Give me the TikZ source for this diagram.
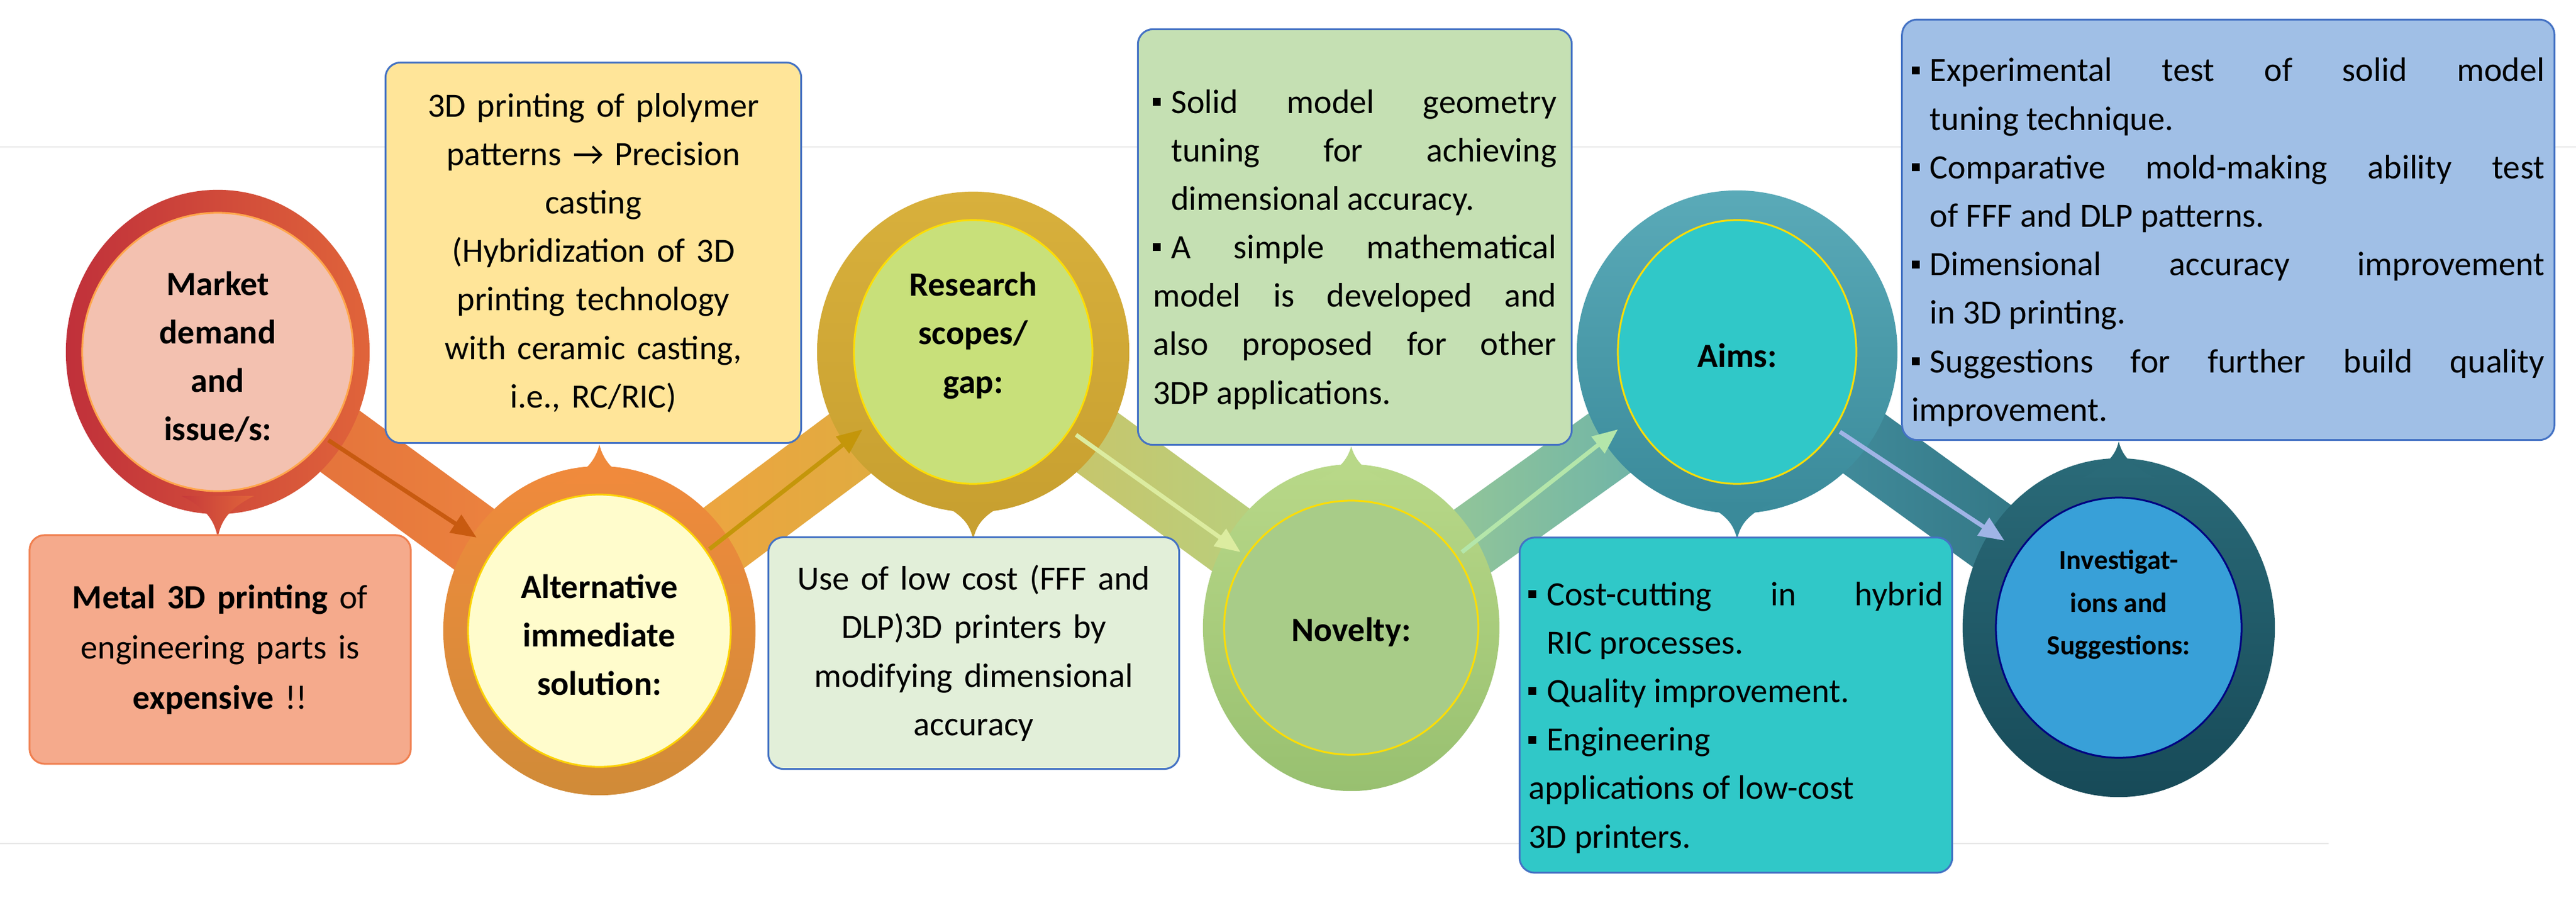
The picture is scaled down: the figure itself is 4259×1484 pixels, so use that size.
\documentclass[tikz,border=0pt]{standalone}
\usepackage{fontspec}
\setmainfont{Carlito}
\usetikzlibrary{calc,arrows.meta}
\definecolor{boxline}{HTML}{4472C4}
\tikzset{
  txt/.style={font=\fontsize{16}{22.8}\selectfont},
  box/.style={draw=boxline, line width=0.03cm, rounded corners=0.25cm, inner sep=0pt, txt},
  lab/.style={font=\fontsize{16}{22.8}\selectfont\bfseries, align=center},
  arr/.style={line width=0.07cm, -{Triangle[length=0.42cm,width=0.34cm]}},
}
\newcommand{\bul}{\par\noindent\hyphenpenalty=10000\exhyphenpenalty=10000\hangindent=0.3cm\hangafter=1\makebox[0.3cm][l]{\raisebox{0.45ex}{\rule{0.13cm}{0.13cm}}}}
\begin{document}
\begin{tikzpicture}[x=0.01cm,y=-0.01cm]
\useasboundingbox (0,0) rectangle (4259,1484);
\fill[white] (0,0) rectangle (4259,1484);
\draw[gray!18, line width=0.02cm] (0,243) -- (4259,243);
\draw[gray!18, line width=0.02cm] (0,1395) -- (3850,1395);
% centers
\coordinate (M) at (360,582);
\coordinate (A) at (991,1043);
\coordinate (R) at (1609,582);
\coordinate (N) at (2234,1038);
\coordinate (Am) at (2872,582);
\coordinate (I) at (3503,1038);
% bands
\foreach \p/\q/\c/\d in {M/A/E06A3A/F08C40, A/R/F5A040/D8B040, R/N/D0C060/B0D488, N/Am/A8D090/5AAAB0, Am/I/4A98A8/2A6A78}{
  \definecolor{ca}{HTML}{\c}\definecolor{cb}{HTML}{\d}
  \shade[left color=ca, right color=cb]
    ($(\p)!0.6cm!90:(\q)$) -- ($(\q)!0.6cm!-90:(\p)$) -- ($(\q)!0.6cm!90:(\p)$) -- ($(\p)!0.6cm!-90:(\q)$) -- cycle;
}
% rings with tips
\definecolor{mr1}{HTML}{C0303A}\definecolor{mr2}{HTML}{E0643A}
\definecolor{ar1}{HTML}{F08A3C}\definecolor{ar2}{HTML}{F5A442}
\definecolor{rr1}{HTML}{D8B03C}\definecolor{rr2}{HTML}{C8A030}
\definecolor{nr1}{HTML}{B8D888}\definecolor{nr2}{HTML}{98C070}
\definecolor{amr1}{HTML}{5AAAB8}\definecolor{amr2}{HTML}{3A8A9A}
\definecolor{ir1}{HTML}{2A6A78}\definecolor{ir2}{HTML}{174A58}
\definecolor{arc1}{RGB}{200,90,16}
\definecolor{arc2}{RGB}{196,150,10}
\definecolor{arc3}{RGB}{220,236,160}
\definecolor{arc4}{RGB}{180,230,170}
\definecolor{arc5}{RGB}{160,180,230}
\shade[left color=mr1, right color=mr2] (M) ellipse [x radius=2.51cm, y radius=2.68cm];
\shade[left color=mr1!80!mr2, right color=mr2] (300,820) .. controls (340,840) and (355,860) .. (360,890) .. controls (365,860) and (380,840) .. (420,820) -- cycle;
\shade[top color=ar1, bottom color=ar2!85!black] (A) ellipse [x radius=2.58cm, y radius=2.72cm];
\fill[ar1] (931,800) .. controls (970,780) and (985,760) .. (991,735) .. controls (997,760) and (1012,780) .. (1051,800) -- cycle;
\shade[top color=rr1, bottom color=rr2] (R) ellipse [x radius=2.58cm, y radius=2.65cm];
\fill[rr2] (1549,830) .. controls (1590,850) and (1603,865) .. (1609,892) .. controls (1615,865) and (1628,850) .. (1669,830) -- cycle;
\shade[top color=nr1, bottom color=nr2] (N) ellipse [x radius=2.45cm, y radius=2.70cm];
\fill[nr1] (2174,795) .. controls (2213,780) and (2228,760) .. (2234,738) .. controls (2240,760) and (2255,780) .. (2294,795) -- cycle;
\shade[top color=amr1, bottom color=amr2] (Am) ellipse [x radius=2.65cm, y radius=2.67cm];
\fill[amr2] (2812,830) .. controls (2853,850) and (2866,865) .. (2872,892) .. controls (2878,865) and (2891,850) .. (2932,830) -- cycle;
\shade[top color=ir1, bottom color=ir2] (I) ellipse [x radius=2.58cm, y radius=2.80cm];
\fill[ir1] (3443,790) .. controls (3482,770) and (3497,755) .. (3503,730) .. controls (3509,755) and (3524,770) .. (3563,790) -- cycle;
% inner circles
\filldraw[fill=mr2!40!white, draw=orange!70!white, line width=0.03cm] (M) ellipse [x radius=2.24cm, y radius=2.30cm];
\filldraw[fill=yellow!20!white, draw=yellow!70!orange, line width=0.03cm] (A) ellipse [x radius=2.17cm, y radius=2.25cm];
\filldraw[fill={rgb,255:red,200;green,224;blue,122}, draw=yellow!80!orange, line width=0.03cm] (R) ellipse [x radius=1.97cm, y radius=2.18cm];
\filldraw[fill={rgb,255:red,168;green,204;blue,136}, draw=yellow!80!orange, line width=0.03cm] (N) ellipse [x radius=2.10cm, y radius=2.10cm];
\filldraw[fill={rgb,255:red,48;green,200;blue,200}, draw=yellow!80!orange, line width=0.03cm] (Am) ellipse [x radius=1.97cm, y radius=2.18cm];
\filldraw[fill={rgb,255:red,56;green,160;blue,216}, draw=blue!50!black, line width=0.03cm] (I) ellipse [x radius=2.03cm, y radius=2.15cm];
% circle labels
\node[lab] (tM) at (360,590) {Market\\demand\\and\\issue/s:};
\node[lab] (tA) at (991,1050) {Alternative\\immediate\\solution:};
\node[lab] (tR) at (1609,555) {Research\\scopes/\\gap:};
\node[lab] (tN) at (2234,1045) {Novelty:};
\node[lab] (tAm) at (2872,588) {Aims:};
\node[lab, font=\fontsize{13}{20}\selectfont\bfseries] (tI) at (3503,1000) {Investigat-\\ions and\\Suggestions:};
% arrows
\coordinate (a1s) at (543,728); \coordinate (a1e) at (788,889);
\coordinate (a2s) at (1173,908); \coordinate (a2e) at (1426,710);
\coordinate (a3s) at (1779,719); \coordinate (a3e) at (2051,913);
\coordinate (a4s) at (2417,913); \coordinate (a4e) at (2675,710);
\coordinate (a5s) at (3042,714); \coordinate (a5e) at (3314,894);
\draw[arr, arc1] (a1s) -- (a1e);
\draw[arr, arc2] (a2s) -- (a2e);
\draw[arr, arc3] (a3s) -- (a3e);
\draw[arr, arc4] (a4s) -- (a4e);
\draw[arr, arc5] (a5s) -- (a5e);
% boxes
\node[box, draw={rgb,255:red,240;green,128;blue,80}, fill={rgb,255:red,245;green,170;blue,140}, minimum width=6.30cm, minimum height=3.78cm, text width=6.0cm, align=center, font=\fontsize{16}{23.5}\selectfont] (bM) at (364,1074)
 {\textbf{Metal 3D printing} of\\engineering parts is\\\textbf{expensive} !!};
\node[box, fill={rgb,255:red,255;green,229;blue,153}, minimum width=6.87cm, minimum height=6.29cm, text width=6.5cm, align=center] (bA) at (981,418)
 {3D printing of plolymer\\patterns → Precision\\casting\\(Hybridization of 3D\\printing technology\\with ceramic casting,\\i.e., RC/RIC)};
\node[box, fill={rgb,255:red,226;green,239;blue,217}, minimum width=6.79cm, minimum height=3.83cm, text width=6.5cm, align=center] (bR) at (1610,1080)
 {Use of low cost (FFF and\\DLP)3D printers by\\modifying dimensional\\accuracy};
\node[box, fill={rgb,255:red,197;green,224;blue,179}, minimum width=7.17cm, minimum height=6.87cm, text width=6.67cm, align=justify] (bN) at (2240,392)
 {\bul Solid model geometry\linebreak tuning for achieving\linebreak dimensional accuracy.\bul A simple mathematical\linebreak model is developed and\linebreak also proposed for other\linebreak 3DP applications.};
\node[box, fill={rgb,255:red,48;green,200;blue,200}, minimum width=7.15cm, minimum height=5.54cm, text width=6.85cm, align=justify] (bAm) at (2870,1166)
 {\bul Cost-cutting in hybrid\linebreak RIC processes.\bul Quality improvement.\bul Engineering\\ applications of low-cost\\ 3D printers.};
\node[box, fill={rgb,255:red,160;green,191;blue,230}, minimum width=10.78cm, minimum height=6.95cm, text width=10.46cm, align=justify] (bI) at (3684,380)
 {\bul Experimental test of solid model\linebreak tuning technique.\bul Comparative mold-making ability test\linebreak of FFF and DLP patterns.\bul Dimensional accuracy improvement\linebreak in 3D printing.\bul Suggestions for further build quality\linebreak improvement.};
\end{tikzpicture}
\end{document}
